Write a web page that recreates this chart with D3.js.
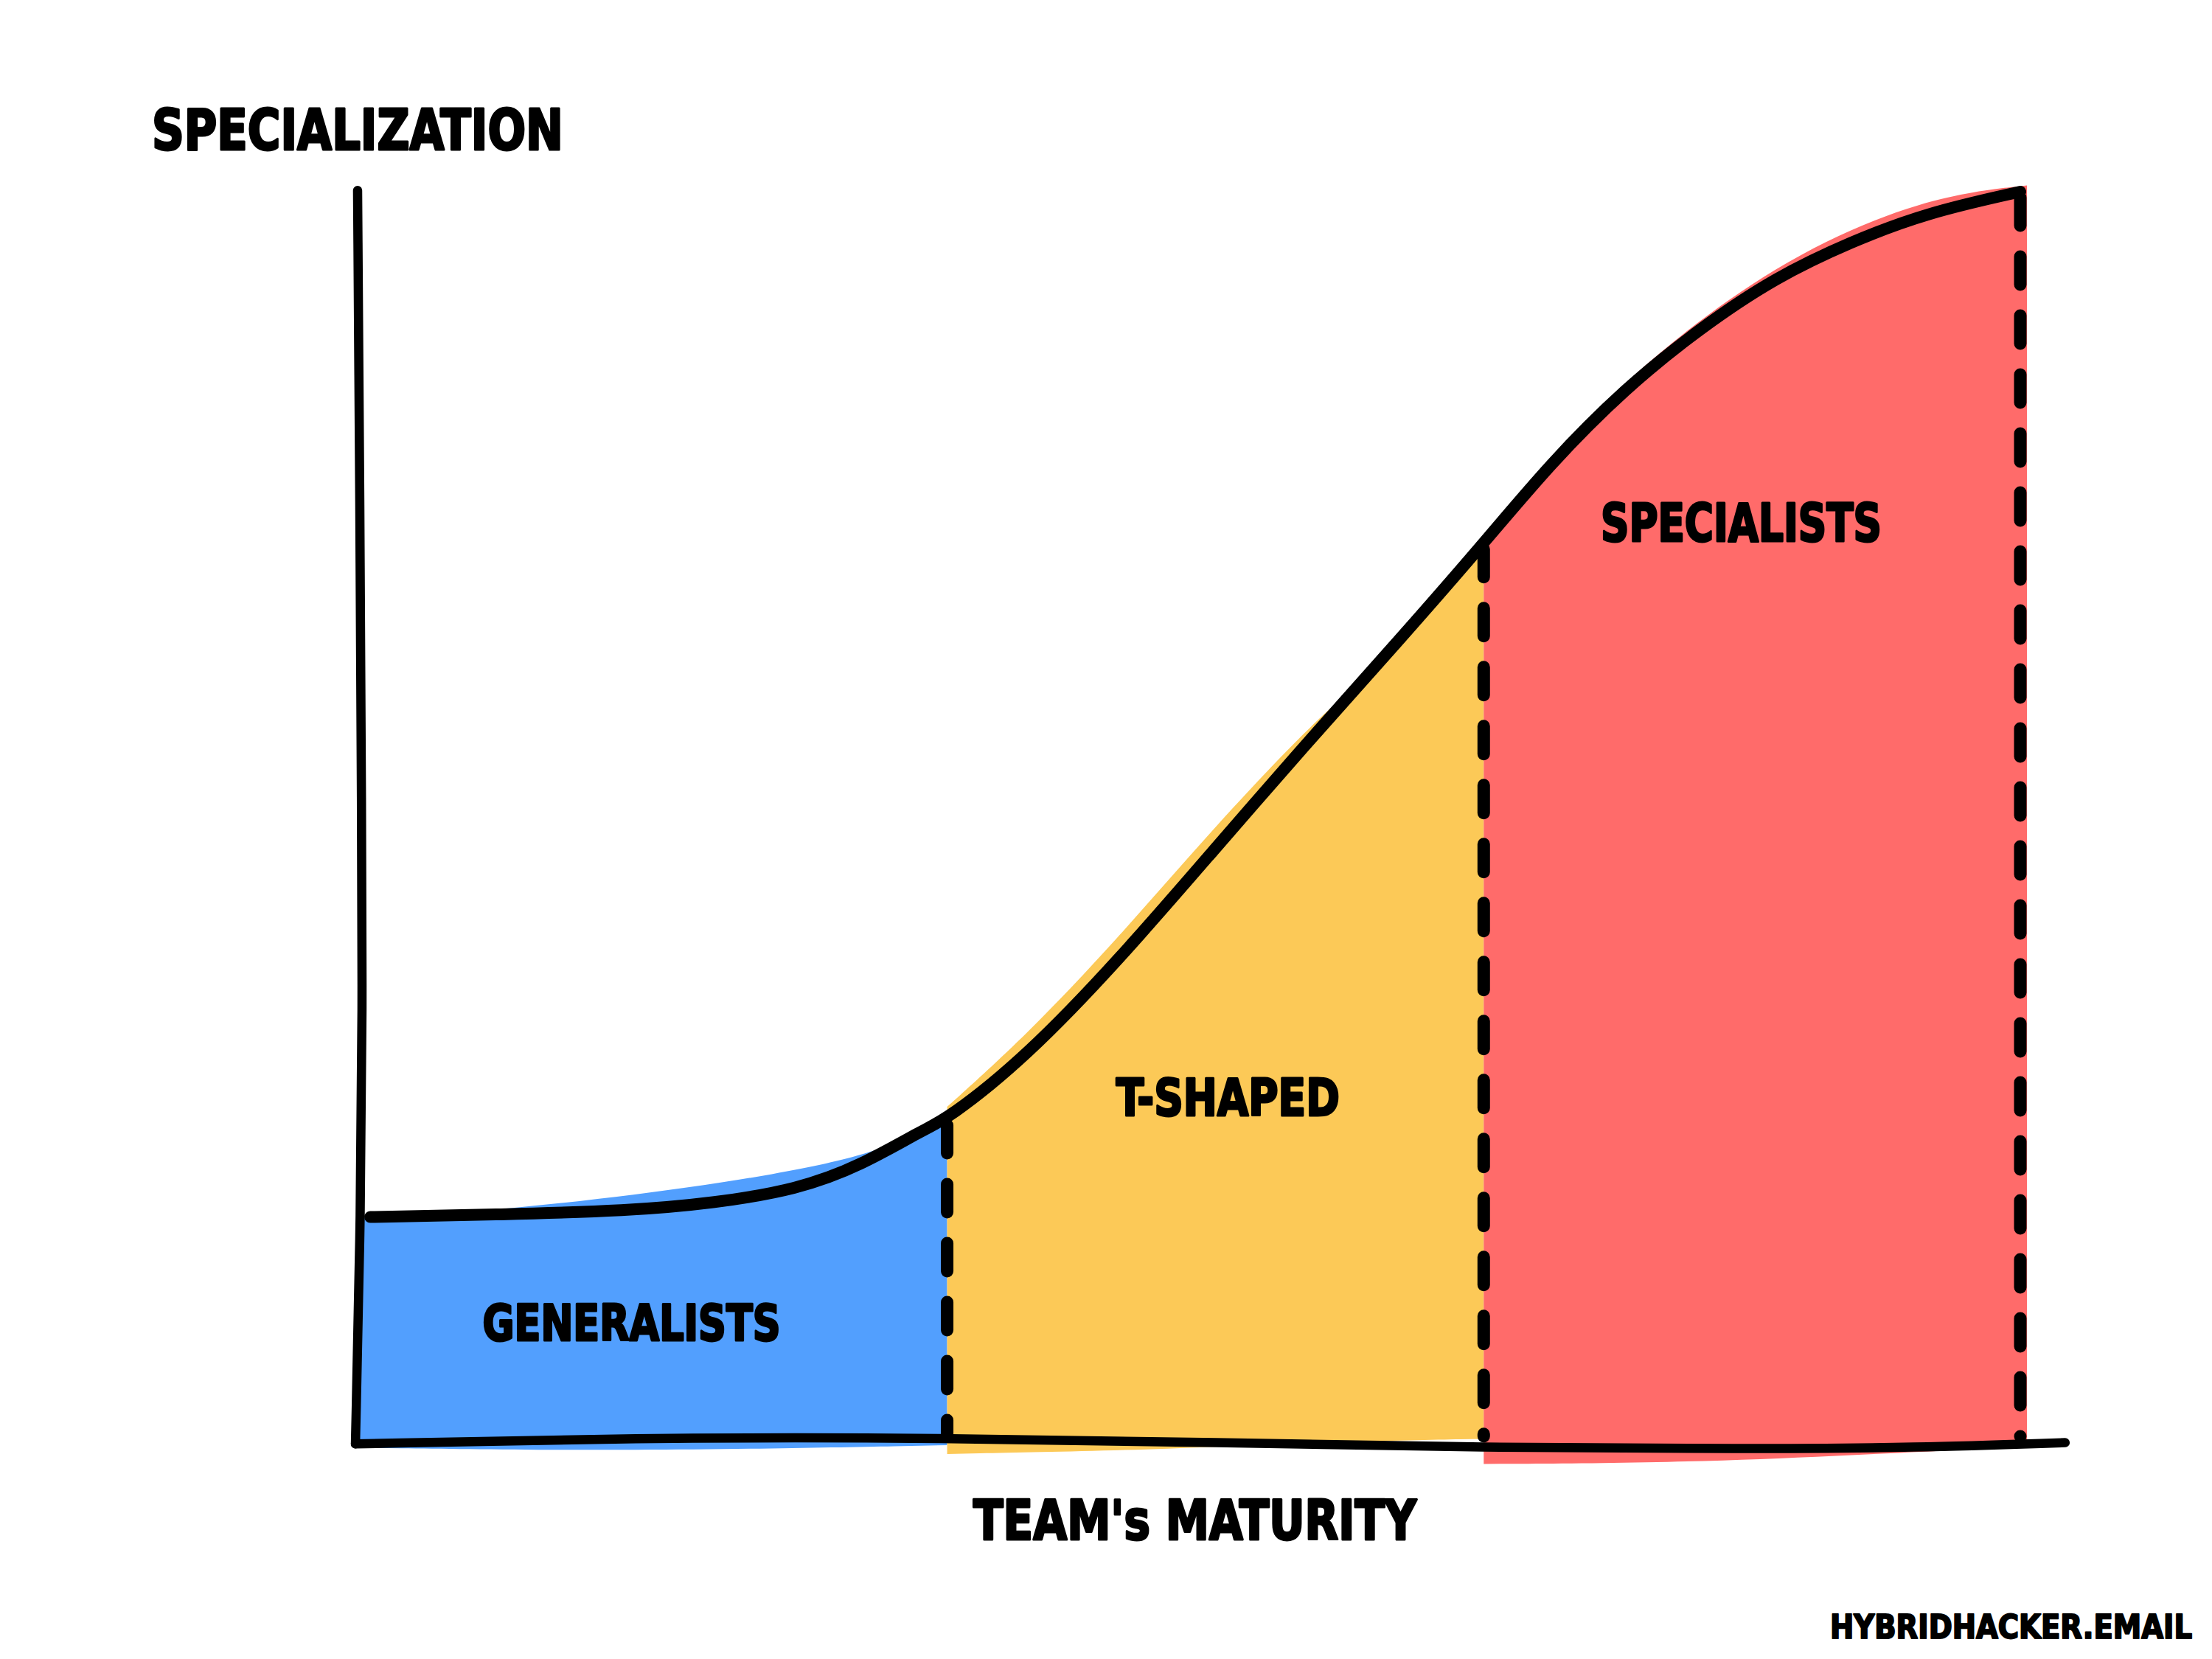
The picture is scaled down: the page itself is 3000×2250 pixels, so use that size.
<!DOCTYPE html>
<html>
<head>
<meta charset="utf-8">
<script src="https://cdn.jsdelivr.net/npm/d3@7"></script>
<style>
  body { margin: 0; background: #fff; }
  svg { display: block; }
  .label { font-family: "Liberation Sans Narrow", "DejaVu Sans Condensed", "Arial Narrow", sans-serif; font-weight: bold; fill: #000; stroke: #000; stroke-width: 3; stroke-linejoin: round; }
</style>
</head>
<body>
<div class="chart"></div>
<script>
var width = 3000, height = 2250;

// stages along team's maturity (0..100), specialization 0..100
const stages = ["GENERALISTS", "T-SHAPED", "SPECIALISTS"];
const stageEdges = [0, 35.4, 67.7, 100];
const stageColors = ["#529FFE", "#FCC957", "#FF6B6A"];

// the black maturity curve [maturity, specialization]
const curvePoints = [
  [0.67, 18.2], [8.6, 18.4], [16.2, 18.7], [21.3, 19.3], [26.4, 20.4],
  [30.2, 22.3], [34.0, 25.2], [35.4, 26.0], [40.1, 30.9], [45.8, 38.8],
  [51.4, 47.4], [57.1, 56.1], [62.8, 64.5], [67.6, 71.8], [71.7, 78.3],
  [76.2, 84.3], [80.7, 89.1], [85.3, 93.2], [89.8, 96.0], [94.3, 98.3],
  [100, 100]
];

// painted areas (top edge / bottom edge), slightly off the line like a brush
const generalistsTop = [[-0.13, 18.1], [8.6, 18.7], [21.3, 20.7], [30.7, 23.0], [34.0, 25.2], [35.4, 26.0]];
const generalistsBottom = [[-0.13, -0.2], [16.2, -0.5], [35.4, 0.0]];
const tshapedTop = [[35.4, 27.0], [40.1, 32.6], [45.8, 40.6], [51.4, 49.2], [57.1, 57.2], [59.2, 59.6], [62.8, 64.4], [67.7, 72.1]];
const tshapedBottom = [[35.4, -0.7], [47.4, -0.4], [59.2, 0.3], [67.7, 0.5]];
const specialistsTop = [[67.7, 71.8], [69.4, 75.6], [76.2, 85.2], [85.3, 94.5], [94.3, 99.6], [100.4, 100.5]];
const specialistsBottom = [[67.7, -1.5], [79.1, -1.4], [88.5, -0.9], [100.4, -0.1]];

// hand drawn axes
const xAxisPoints = [[-0.22, 0.1], [16.2, 0.6], [35.4, 0.6], [51.6, 0.2], [67.7, -0.2], [83.7, -0.3], [93.8, -0.2], [102.7, 0.2]];
const yAxisPoints = [[-0.09, 100.1], [0.05, 75], [0.15, 50], [0.2, 35], [0.1, 18.6], [-0.22, 0.1]];

const yTitle = "SPECIALIZATION";
const xTitle = "TEAM's MATURITY";
const credit = "HYBRIDHACKER.EMAIL";

var svg = d3.select(".chart")
  .append("svg")
  .attr("width", width)
  .attr("height", height);

svg.append("rect").attr("width", width).attr("height", height).attr("fill", "#fff");

var x = d3.scaleLinear().domain([0, 100]).range([487, 2740]);
var y = d3.scaleLinear().domain([0, 100]).range([1960, 260]);

var smooth = d3.line().x(d => x(d[0])).y(d => y(d[1])).curve(d3.curveBasis);

function areaPath(top, bottom) {
  var t = smooth(top);
  var b = smooth(bottom.slice().reverse());
  return t + "L" + b.slice(1) + "Z";
}

var fills = [
  [generalistsTop, generalistsBottom],
  [tshapedTop, tshapedBottom],
  [specialistsTop, specialistsBottom]
];

svg.append("g").selectAll("path")
  .data(fills)
  .enter().append("path")
  .attr("d", d => areaPath(d[0], d[1]))
  .attr("fill", (d, i) => stageColors[i]);

// specialization value on the curve at a given maturity
function curveAt(m) {
  var i = d3.bisector(d => d[0]).left(curvePoints, m);
  if (i <= 0) return curvePoints[0][1];
  if (i >= curvePoints.length) return curvePoints[curvePoints.length - 1][1];
  var a = curvePoints[i - 1], b = curvePoints[i];
  return a[1] + (b[1] - a[1]) * (m - a[0]) / (b[0] - a[0]);
}

// dashed stage borders
svg.append("g").selectAll("line")
  .data(stageEdges.slice(1))
  .enter().append("line")
  .attr("x1", d => x(d)).attr("x2", d => x(d))
  .attr("y1", d => y(curveAt(d)) + 8)
  .attr("y2", y(0.7))
  .attr("stroke", "#000")
  .attr("stroke-width", 17)
  .attr("stroke-linecap", "round")
  .attr("stroke-dasharray", "38 42");

// axes
svg.append("path")
  .attr("d", smooth(yAxisPoints))
  .attr("fill", "none").attr("stroke", "#000")
  .attr("stroke-width", 12.5).attr("stroke-linecap", "round").attr("stroke-linejoin", "round");

svg.append("path")
  .attr("d", smooth(xAxisPoints))
  .attr("fill", "none").attr("stroke", "#000")
  .attr("stroke-width", 12.5).attr("stroke-linecap", "round").attr("stroke-linejoin", "round");

// maturity curve
svg.append("path")
  .attr("d", smooth(curvePoints))
  .attr("fill", "none").attr("stroke", "#000")
  .attr("stroke-width", 16).attr("stroke-linecap", "round").attr("stroke-linejoin", "round");

// stage labels
var labelSpots = [
  { mx: 16.4, sy: 8.35, size: 68, len: 404 },
  { mx: 52.3, sy: 26.3, size: 69, len: 303 },
  { mx: 83.2, sy: 72.1, size: 72, len: 381 }
];

svg.append("g").selectAll("text")
  .data(stages)
  .enter().append("text")
  .attr("class", "label")
  .attr("x", (d, i) => x(labelSpots[i].mx) - labelSpots[i].len / 2)
  .attr("y", (d, i) => y(labelSpots[i].sy))
  .attr("font-size", (d, i) => labelSpots[i].size)
  .attr("textLength", (d, i) => labelSpots[i].len)
  .attr("lengthAdjust", "spacingAndGlyphs")
  .text(d => d);

// titles
svg.append("text").attr("class", "label")
  .attr("x", 206).attr("y", 203)
  .attr("font-size", 76)
  .attr("textLength", 558).attr("lengthAdjust", "spacingAndGlyphs")
  .text(yTitle);

svg.append("text").attr("class", "label")
  .attr("x", 1320).attr("y", 2088)
  .attr("font-size", 74)
  .attr("textLength", 601).attr("lengthAdjust", "spacingAndGlyphs")
  .text(xTitle);

svg.append("text").attr("class", "label")
  .attr("x", 2482).attr("y", 2222)
  .attr("font-size", 44)
  .style("stroke-width", 2)
  .attr("textLength", 491).attr("lengthAdjust", "spacingAndGlyphs")
  .text(credit);
</script>
</body>
</html>
